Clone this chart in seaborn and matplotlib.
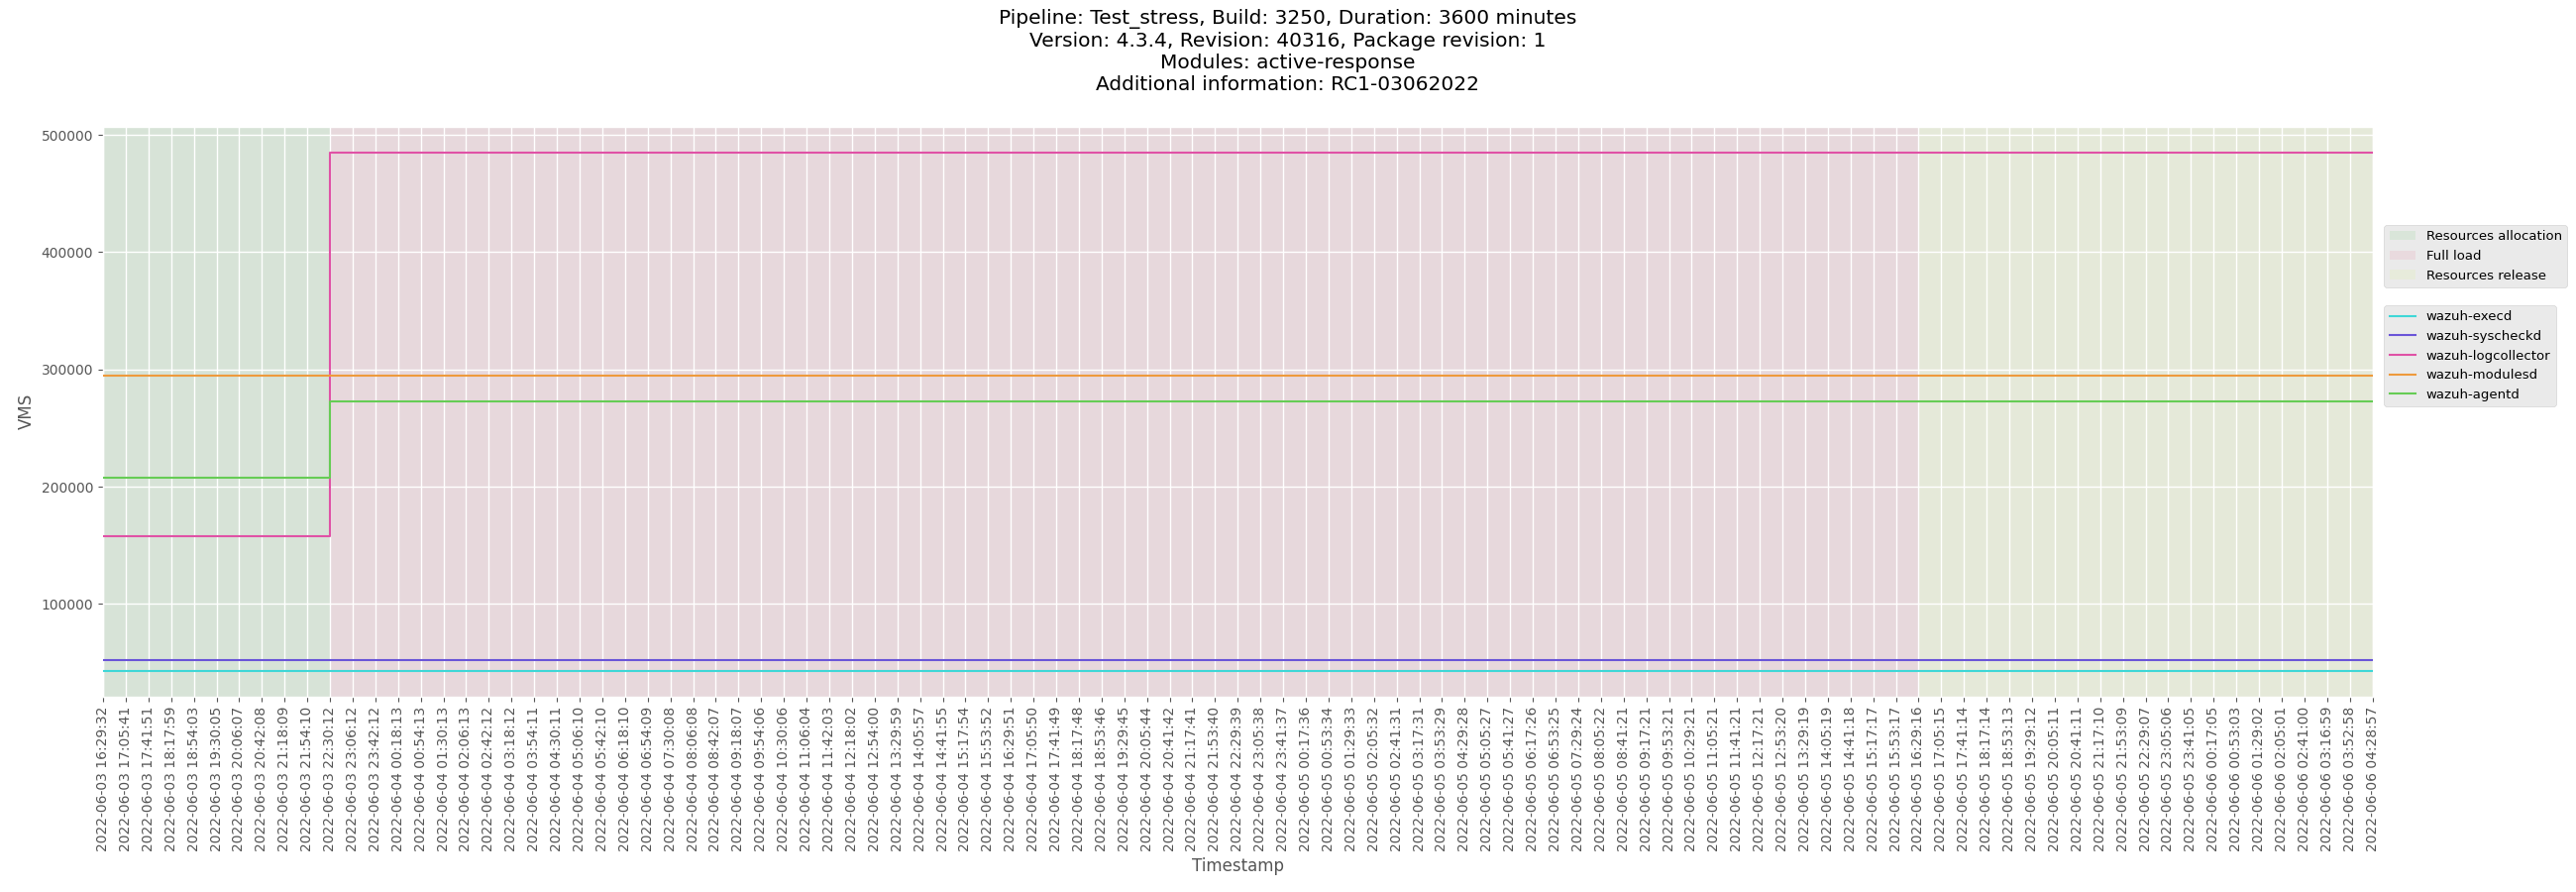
import matplotlib
matplotlib.use("Agg")
import matplotlib.pyplot as plt
import seaborn as sns
import pandas as pd
from matplotlib.patches import Patch
from matplotlib.lines import Line2D

day03 = ["16:29:32","17:05:41","17:41:51","18:17:59","18:54:03","19:30:05","20:06:07","20:42:08",
         "21:18:09","21:54:10","22:30:12","23:06:12","23:42:12"]
day04 = ["00:18:13","00:54:13","01:30:13","02:06:13","02:42:12","03:18:12","03:54:11","04:30:11",
         "05:06:10","05:42:10","06:18:10","06:54:09","07:30:08","08:06:08","08:42:07","09:18:07",
         "09:54:06","10:30:06","11:06:04","11:42:03","12:18:02","12:54:00","13:29:59","14:05:57",
         "14:41:55","15:17:54","15:53:52","16:29:51","17:05:50","17:41:49","18:17:48","18:53:46",
         "19:29:45","20:05:44","20:41:42","21:17:41","21:53:40","22:29:39","23:05:38","23:41:37"]
day05 = ["00:17:36","00:53:34","01:29:33","02:05:32","02:41:31","03:17:31","03:53:29","04:29:28",
         "05:05:27","05:41:27","06:17:26","06:53:25","07:29:24","08:05:22","08:41:21","09:17:21",
         "09:53:21","10:29:21","11:05:21","11:41:21","12:17:21","12:53:20","13:29:19","14:05:19",
         "14:41:18","15:17:17","15:53:17","16:29:16","17:05:15","17:41:14","18:17:14","18:53:13",
         "19:29:12","20:05:11","20:41:11","21:17:10","21:53:09","22:29:07","23:05:06","23:41:05"]
day06 = ["00:17:05","00:53:03","01:29:02","02:05:01","02:41:00","03:16:59","03:52:58","04:28:57"]
timestamps = (["2022-06-03 " + t for t in day03] + ["2022-06-04 " + t for t in day04] +
              ["2022-06-05 " + t for t in day05] + ["2022-06-06 " + t for t in day06])
n = len(timestamps)

# step change at 2022-06-03 22:30:12 (index 10)
execd = [43000] * n
syscheckd = [52000] * n
logcollector = [158000] * 10 + [485000] * (n - 10)
modulesd = [295000] * n
agentd = [208000] * 10 + [273000] * (n - 10)

series = {"wazuh-execd": execd, "wazuh-syscheckd": syscheckd, "wazuh-logcollector": logcollector,
          "wazuh-modulesd": modulesd, "wazuh-agentd": agentd}
colors = {"wazuh-execd": "#3fd7d7", "wazuh-syscheckd": "#6a55d8", "wazuh-logcollector": "#e052a6",
          "wazuh-modulesd": "#ee9a3c", "wazuh-agentd": "#66cc55"}

phases = [("Resources allocation", "2022-06-03 16:29:32", "2022-06-03 22:30:12", "#cfe3cf"),
          ("Full load", "2022-06-03 22:30:12", "2022-06-05 16:29:16", "#e9d0d6"),
          ("Resources release", "2022-06-05 16:29:16", "2022-06-06 04:28:57", "#e6ecd2")]

rows = []
for name, vals in series.items():
    for i, v in enumerate(vals):
        rows.append({"Timestamp": i, "VMS": v, "Daemon": name})
df = pd.DataFrame(rows)

plt.style.use("ggplot")
fig, ax = plt.subplots(figsize=(26, 9), dpi=100)
fig.subplots_adjust(left=0.04, right=0.921, top=0.858, bottom=0.219)

for label, s, e, c in phases:
    ax.axvspan(timestamps.index(s), timestamps.index(e), color=c, alpha=0.6, lw=0, zorder=0)

sns.lineplot(data=df, x="Timestamp", y="VMS", hue="Daemon", palette=colors, ax=ax,
             drawstyle="steps-post", linewidth=1.5, legend=False, zorder=3)

ax.set_xlim(0, n - 1)
ax.set_xticks(range(n))
ax.set_xticklabels(timestamps, rotation=90, fontsize=10)
ax.tick_params(axis="y", labelsize=10)
ax.set_xlabel("Timestamp", fontsize=12)
ax.set_ylabel("VMS", fontsize=12)
ax.grid(True, color="white", linewidth=1)
ax.set_axisbelow(True)

fig.suptitle("Pipeline: Test_stress, Build: 3250, Duration: 3600 minutes\n"
             "Version: 4.3.4, Revision: 40316, Package revision: 1\n"
             "Modules: active-response\n"
             "Additional information: RC1-03062022", fontsize=14.5, y=0.99)

h1 = [Patch(facecolor=c, alpha=0.6, label=l) for l, s, e, c in phases]
fig.legend(handles=h1, loc="upper left", bbox_to_anchor=(0.923, 0.755), fontsize=9.5)
h2 = [Line2D([0], [0], color=colors[k], lw=1.5, label=k) for k in series]
fig.legend(handles=h2, loc="upper left", bbox_to_anchor=(0.923, 0.665), fontsize=9.5)

fig.savefig("out.png", dpi=100)
